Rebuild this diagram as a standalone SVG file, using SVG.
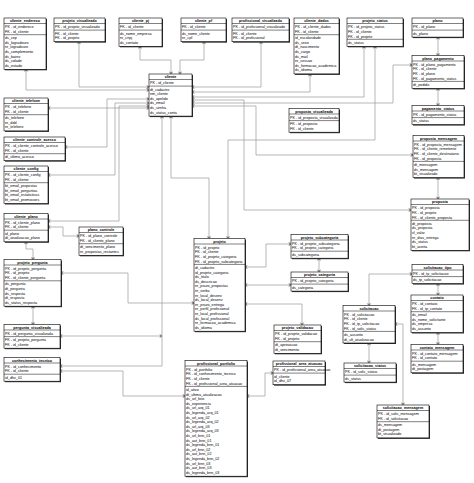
<svg xmlns="http://www.w3.org/2000/svg" width="474" height="483" viewBox="0 0 474 483">
<style>
.bx{fill:#fff;stroke:#000;stroke-width:0.6}
.sh{fill:#333}
.sep{stroke:#000;stroke-width:0.5}
.hd{font-family:"Liberation Sans",Arial,sans-serif;font-size:3.7px;font-weight:bold;text-anchor:middle;fill:#000}
.r{font-family:"Liberation Sans",Arial,sans-serif;font-size:3.7px;fill:#000}
.c{fill:none;stroke:#999;stroke-width:0.7;marker-start:url(#m);marker-end:url(#m)}
</style>
<defs>
<marker id="m" markerUnits="userSpaceOnUse" markerWidth="6" markerHeight="6" viewBox="-5 -3 6 6" refX="0" refY="0" orient="auto-start-reverse">
<path d="M-2.4,-1.4 L0,0 L-2.4,1.4 M-1.2,-1.6 V1.6" fill="none" stroke="#555" stroke-width="0.5"/>
</marker>
</defs>
<rect width="474" height="483" fill="#fff"/>
<g id="connectors">
<path class="c" d="M26,69.3 V90 H149"/>
<path class="c" d="M79,41.7 V87 H149"/>
<path class="c" d="M140,46.3 V60 H171 V74"/>
<path class="c" d="M204,41.7 V60 H180 V74"/>
<path class="c" d="M261,41.7 V87 H192"/>
<path class="c" d="M310,74 V92 H192"/>
<path class="c" d="M364,46.3 V97 H192"/>
<path class="c" d="M412,65 H393 V103 H192"/>
<path class="c" d="M438,37.1 V55.5"/>
<path class="c" d="M438,88.4 V105.5"/>
<path class="c" d="M375,46.3 V140 H228 V238.5"/>
<path class="c" d="M192,100 H244 V210 H411"/>
<path class="c" d="M192,106 H256 V155 H413"/>
<path class="c" d="M171,116.1 V178 H209 V238.5"/>
<path class="c" d="M162,116.1 V366 H60"/>
<path class="c" d="M162,336 H60"/>
<path class="c" d="M48,108 H149"/>
<path class="c" d="M65,147 H107 V99 H149"/>
<path class="c" d="M48,175 H115 V103 H149"/>
<path class="c" d="M48,221 H119 V106 H149"/>
<path class="c" d="M48,227 H63 V236 H79"/>
<path class="c" d="M26,241.8 V249 H33 V259.5"/>
<path class="c" d="M33,306.2 V324.5"/>
<path class="c" d="M61,273 H128 V303 H194"/>
<path class="c" d="M60,371 H123 V396 H185"/>
<path class="c" d="M245,267 H266 V244 H291"/>
<path class="c" d="M319,258.2 V272"/>
<path class="c" d="M245,285 H291"/>
<path class="c" d="M245,304 H302 V325"/>
<path class="c" d="M273,373 H265 V396 H247"/>
<path class="c" d="M438,283.6 V295"/>
<path class="c" d="M412,274 H369 V305.5"/>
<path class="c" d="M438,332.5 V344.5"/>
<path class="c" d="M369,343 V363"/>
<path class="c" d="M395,324 H403 V405"/>
<path class="c" d="M438,177.6 V199"/>
</g>

<g id="cliente_endereco" transform="translate(4,18)">
<rect class="sh" x="1" y="1" width="42" height="51.3"/><rect class="bx" width="42" height="51.3"/>
<text class="hd" x="21" y="4.2">cliente_endereco</text><line class="sep" x1="0" y1="5.5" x2="42" y2="5.5"/>
<text class="r" x="1" y="10.3">PK - id_endereco</text><text class="r" x="1" y="14.9">FK - id_cliente</text>
<line class="sep" x1="0" y1="16.7" x2="42" y2="16.7"/>
<text class="r" x="1" y="21.2">ds_cep</text><text class="r" x="1" y="25.8">ds_logradouro</text><text class="r" x="1" y="30.4">nr_logradouro</text><text class="r" x="1" y="35">ds_complemento</text><text class="r" x="1" y="39.6">ds_bairro</text><text class="r" x="1" y="44.2">ds_cidade</text><text class="r" x="1" y="48.8">ds_estado</text>
</g>

<g id="projeto_visualizado" transform="translate(54,18)">
<rect class="sh" x="1" y="1" width="51" height="23.7"/><rect class="bx" width="51" height="23.7"/>
<text class="hd" x="25.5" y="4.2">projeto_visualizado</text><line class="sep" x1="0" y1="5.5" x2="51" y2="5.5"/>
<text class="r" x="1" y="10.3">PK - id_projeto_visualizado</text>
<line class="sep" x1="0" y1="12.1" x2="51" y2="12.1"/>
<text class="r" x="1" y="16.6">FK - id_cliente</text><text class="r" x="1" y="21.2">FK - id_projeto</text>
</g>

<g id="cliente_pj" transform="translate(119,18)">
<rect class="sh" x="1" y="1" width="43" height="28.3"/><rect class="bx" width="43" height="28.3"/>
<text class="hd" x="21.5" y="4.2">cliente_pj</text><line class="sep" x1="0" y1="5.5" x2="43" y2="5.5"/>
<text class="r" x="1" y="10.3">FK - id_cliente</text>
<line class="sep" x1="0" y1="12.1" x2="43" y2="12.1"/>
<text class="r" x="1" y="16.6">ds_nome_empresa</text><text class="r" x="1" y="21.2">nr_cnpj</text><text class="r" x="1" y="25.8">ds_contato</text>
</g>

<g id="cliente_pf" transform="translate(181,18)">
<rect class="sh" x="1" y="1" width="45" height="23.7"/><rect class="bx" width="45" height="23.7"/>
<text class="hd" x="22.5" y="4.2">cliente_pf</text><line class="sep" x1="0" y1="5.5" x2="45" y2="5.5"/>
<text class="r" x="1" y="10.3">FK - id_cliente</text>
<line class="sep" x1="0" y1="12.1" x2="45" y2="12.1"/>
<text class="r" x="1" y="16.6">ds_nome_cliente</text><text class="r" x="1" y="21.2">nr_cpf</text>
</g>

<g id="profissional_visualizado" transform="translate(232,18)">
<rect class="sh" x="1" y="1" width="57" height="23.7"/><rect class="bx" width="57" height="23.7"/>
<text class="hd" x="28.5" y="4.2">profissional_visualizado</text><line class="sep" x1="0" y1="5.5" x2="57" y2="5.5"/>
<text class="r" x="1" y="10.3">PK - id_profissional_visualizado</text>
<line class="sep" x1="0" y1="12.1" x2="57" y2="12.1"/>
<text class="r" x="1" y="16.6">FK - id_cliente</text><text class="r" x="1" y="21.2">FK - id_profissional</text>
</g>

<g id="cliente_dados" transform="translate(294,18)">
<rect class="sh" x="1" y="1" width="45" height="55.9"/><rect class="bx" width="45" height="55.9"/>
<text class="hd" x="22.5" y="4.2">cliente_dados</text><line class="sep" x1="0" y1="5.5" x2="45" y2="5.5"/>
<text class="r" x="1" y="10.3">PK - id_cliente_dados</text><text class="r" x="1" y="14.9">FK - id_cliente</text>
<line class="sep" x1="0" y1="16.7" x2="45" y2="16.7"/>
<text class="r" x="1" y="21.2">id_escolaridade</text><text class="r" x="1" y="25.8">ds_sexo</text><text class="r" x="1" y="30.4">dt_nascimento</text><text class="r" x="1" y="35">ds_cargo</text><text class="r" x="1" y="39.6">ds_mail</text><text class="r" x="1" y="44.2">nr_sessao</text><text class="r" x="1" y="48.8">ds_formacao_academica</text><text class="r" x="1" y="53.4">ds_idioma</text>
</g>

<g id="projeto_status" transform="translate(347,18)">
<rect class="sh" x="1" y="1" width="56" height="28.3"/><rect class="bx" width="56" height="28.3"/>
<text class="hd" x="28" y="4.2">projeto_status</text><line class="sep" x1="0" y1="5.5" x2="56" y2="5.5"/>
<text class="r" x="1" y="10.3">PK - id_projeto_status</text><text class="r" x="1" y="14.9">FK - id_cliente</text><text class="r" x="1" y="19.5">FK - id_projeto</text>
<line class="sep" x1="0" y1="21.3" x2="56" y2="21.3"/>
<text class="r" x="1" y="25.8">ds_status</text>
</g>

<g id="plano" transform="translate(412,18)">
<rect class="sh" x="1" y="1" width="51" height="19.1"/><rect class="bx" width="51" height="19.1"/>
<text class="hd" x="25.5" y="4.2">plano</text><line class="sep" x1="0" y1="5.5" x2="51" y2="5.5"/>
<text class="r" x="1" y="10.3">PK - id_plano</text>
<line class="sep" x1="0" y1="12.1" x2="51" y2="12.1"/>
<text class="r" x="1" y="16.6">ds_plano</text>
</g>

<g id="plano_pagamento" transform="translate(412,55.5)">
<rect class="sh" x="1" y="1" width="52" height="32.9"/><rect class="bx" width="52" height="32.9"/>
<text class="hd" x="26" y="4.2">plano_pagamento</text><line class="sep" x1="0" y1="5.5" x2="52" y2="5.5"/>
<text class="r" x="1" y="10.3">PK - id_plano_pagamento</text><text class="r" x="1" y="14.9">FK - id_cliente</text><text class="r" x="1" y="19.5">FK - id_plano</text><text class="r" x="1" y="24.1">FK - id_pagamento_status</text>
<line class="sep" x1="0" y1="25.9" x2="52" y2="25.9"/>
<text class="r" x="1" y="30.4">dt_pedido</text>
</g>

<g id="pagamento_status" transform="translate(412,105.5)">
<rect class="sh" x="1" y="1" width="52" height="19.1"/><rect class="bx" width="52" height="19.1"/>
<text class="hd" x="26" y="4.2">pagamento_status</text><line class="sep" x1="0" y1="5.5" x2="52" y2="5.5"/>
<text class="r" x="1" y="10.3">PK - id_pagamento_status</text>
<line class="sep" x1="0" y1="12.1" x2="52" y2="12.1"/>
<text class="r" x="1" y="16.6">ds_status</text>
</g>

<g id="cliente" transform="translate(149,74)">
<rect class="sh" x="1" y="1" width="43" height="42.1"/><rect class="bx" width="43" height="42.1"/>
<text class="hd" x="21.5" y="4.2">cliente</text><line class="sep" x1="0" y1="5.5" x2="43" y2="5.5"/>
<text class="r" x="1" y="10.3">PK - id_cliente</text>
<line class="sep" x1="0" y1="12.1" x2="43" y2="12.1"/>
<text class="r" x="1" y="16.6">dt_cadastro</text><text class="r" x="1" y="21.2">nm_cliente</text><text class="r" x="1" y="25.8">ds_apelido</text><text class="r" x="1" y="30.4">ds_email</text><text class="r" x="1" y="35">ds_senha</text><text class="r" x="1" y="39.6">ds_status_conta</text>
</g>

<g id="proposta_visualizada" transform="translate(289,108.5)">
<rect class="sh" x="1" y="1" width="50" height="23.7"/><rect class="bx" width="50" height="23.7"/>
<text class="hd" x="25" y="4.2">proposta_visualizada</text><line class="sep" x1="0" y1="5.5" x2="50" y2="5.5"/>
<text class="r" x="1" y="10.3">PK - id_proposta_visualizada</text>
<line class="sep" x1="0" y1="12.1" x2="50" y2="12.1"/>
<text class="r" x="1" y="16.6">FK - id_proposta</text><text class="r" x="1" y="21.2">FK - id_cliente</text>
</g>

<g id="cliente_telefone" transform="translate(4,98)">
<rect class="sh" x="1" y="1" width="44" height="32.9"/><rect class="bx" width="44" height="32.9"/>
<text class="hd" x="22" y="4.2">cliente_telefone</text><line class="sep" x1="0" y1="5.5" x2="44" y2="5.5"/>
<text class="r" x="1" y="10.3">PK - id_telefone</text><text class="r" x="1" y="14.9">FK - id_cliente</text>
<line class="sep" x1="0" y1="16.7" x2="44" y2="16.7"/>
<text class="r" x="1" y="21.2">ds_telefone</text><text class="r" x="1" y="25.8">nr_ddd</text><text class="r" x="1" y="30.4">nr_telefone</text>
</g>

<g id="cliente_controle_acesso" transform="translate(4,137)">
<rect class="sh" x="1" y="1" width="61" height="23.7"/><rect class="bx" width="61" height="23.7"/>
<text class="hd" x="30.5" y="4.2">cliente_controle_acesso</text><line class="sep" x1="0" y1="5.5" x2="61" y2="5.5"/>
<text class="r" x="1" y="10.3">PK - id_cliente_controle_acesso</text><text class="r" x="1" y="14.9">FK - id_cliente</text>
<line class="sep" x1="0" y1="16.7" x2="61" y2="16.7"/>
<text class="r" x="1" y="21.2">dt_ultimo_acesso</text>
</g>

<g id="cliente_config" transform="translate(4,166)">
<rect class="sh" x="1" y="1" width="44" height="37.5"/><rect class="bx" width="44" height="37.5"/>
<text class="hd" x="22" y="4.2">cliente_config</text><line class="sep" x1="0" y1="5.5" x2="44" y2="5.5"/>
<text class="r" x="1" y="10.3">PK - id_cliente_config</text><text class="r" x="1" y="14.9">FK - id_cliente</text>
<line class="sep" x1="0" y1="16.7" x2="44" y2="16.7"/>
<text class="r" x="1" y="21.2">bt_email_propostas</text><text class="r" x="1" y="25.8">bt_email_perguntas</text><text class="r" x="1" y="30.4">bt_email_estatisticas</text><text class="r" x="1" y="35">bt_email_promocoes</text>
</g>

<g id="cliente_plano" transform="translate(4,213.5)">
<rect class="sh" x="1" y="1" width="44" height="28.3"/><rect class="bx" width="44" height="28.3"/>
<text class="hd" x="22" y="4.2">cliente_plano</text><line class="sep" x1="0" y1="5.5" x2="44" y2="5.5"/>
<text class="r" x="1" y="10.3">PK - id_cliente_plano</text><text class="r" x="1" y="14.9">FK - id_cliente</text>
<line class="sep" x1="0" y1="16.7" x2="44" y2="16.7"/>
<text class="r" x="1" y="21.2">id_plano</text><text class="r" x="1" y="25.8">dt_atualizacao_plano</text>
</g>

<g id="plano_controle" transform="translate(79,227)">
<rect class="sh" x="1" y="1" width="44" height="28.3"/><rect class="bx" width="44" height="28.3"/>
<text class="hd" x="22" y="4.2">plano_controle</text><line class="sep" x1="0" y1="5.5" x2="44" y2="5.5"/>
<text class="r" x="1" y="10.3">PK - id_plano_controle</text><text class="r" x="1" y="14.9">FK - id_cliente_plano</text>
<line class="sep" x1="0" y1="16.7" x2="44" y2="16.7"/>
<text class="r" x="1" y="21.2">dt_vencimento_plano</text><text class="r" x="1" y="25.8">nr_propostas_restantes</text>
</g>

<g id="projeto_pergunta" transform="translate(4,259.5)">
<rect class="sh" x="1" y="1" width="57" height="46.7"/><rect class="bx" width="57" height="46.7"/>
<text class="hd" x="28.5" y="4.2">projeto_pergunta</text><line class="sep" x1="0" y1="5.5" x2="57" y2="5.5"/>
<text class="r" x="1" y="10.3">PK - id_projeto_pergunta</text><text class="r" x="1" y="14.9">FK - id_projeto</text><text class="r" x="1" y="19.5">FK - id_cliente_pergunta</text>
<line class="sep" x1="0" y1="21.3" x2="57" y2="21.3"/>
<text class="r" x="1" y="25.8">ds_pergunta</text><text class="r" x="1" y="30.4">dt_pergunta</text><text class="r" x="1" y="35">ds_resposta</text><text class="r" x="1" y="39.6">dt_resposta</text><text class="r" x="1" y="44.2">ds_status_resposta</text>
</g>

<g id="pergunta_visualizada" transform="translate(4,324.5)">
<rect class="sh" x="1" y="1" width="56" height="23.7"/><rect class="bx" width="56" height="23.7"/>
<text class="hd" x="28" y="4.2">pergunta_visualizada</text><line class="sep" x1="0" y1="5.5" x2="56" y2="5.5"/>
<text class="r" x="1" y="10.3">PK - id_pergunta_visualizada</text>
<line class="sep" x1="0" y1="12.1" x2="56" y2="12.1"/>
<text class="r" x="1" y="16.6">FK - id_projeto_pergunta</text><text class="r" x="1" y="21.2">FK - id_cliente</text>
</g>

<g id="conhecimento_tecnico" transform="translate(4,357.5)">
<rect class="sh" x="1" y="1" width="56" height="23.7"/><rect class="bx" width="56" height="23.7"/>
<text class="hd" x="28" y="4.2">conhecimento_tecnico</text><line class="sep" x1="0" y1="5.5" x2="56" y2="5.5"/>
<text class="r" x="1" y="10.3">PK - id_conhecimento</text><text class="r" x="1" y="14.9">FK - id_cliente</text>
<line class="sep" x1="0" y1="16.7" x2="56" y2="16.7"/>
<text class="r" x="1" y="21.2">id_dhv_01</text>
</g>

<g id="projeto" transform="translate(194,238.5)">
<rect class="sh" x="1" y="1" width="51" height="92.7"/><rect class="bx" width="51" height="92.7"/>
<text class="hd" x="25.5" y="4.2">projeto</text><line class="sep" x1="0" y1="5.5" x2="51" y2="5.5"/>
<text class="r" x="1" y="10.3">PK - id_projeto</text><text class="r" x="1" y="14.9">FK - id_cliente</text><text class="r" x="1" y="19.5">FK - id_projeto_categoria</text><text class="r" x="1" y="24.1">FK - id_projeto_subcategoria</text>
<line class="sep" x1="0" y1="25.9" x2="51" y2="25.9"/>
<text class="r" x="1" y="30.4">dt_cadastro</text><text class="r" x="1" y="35">id_projeto_categoria</text><text class="r" x="1" y="39.6">ds_titulo</text><text class="r" x="1" y="44.2">ds_descricao</text><text class="r" x="1" y="48.8">nr_prazo_propostas</text><text class="r" x="1" y="53.4">nr_verba</text><text class="r" x="1" y="58">nr_local_desenv</text><text class="r" x="1" y="62.6">ds_local_desenv</text><text class="r" x="1" y="67.2">nr_prazo_entrega</text><text class="r" x="1" y="71.8">nr_perfil_profissional</text><text class="r" x="1" y="76.4">nr_local_profissional</text><text class="r" x="1" y="81">ds_local_profissional</text><text class="r" x="1" y="85.6">nr_formacao_academica</text><text class="r" x="1" y="90.2">ds_idioma</text>
</g>

<g id="projeto_subcategoria" transform="translate(291,234.5)">
<rect class="sh" x="1" y="1" width="57" height="23.7"/><rect class="bx" width="57" height="23.7"/>
<text class="hd" x="28.5" y="4.2">projeto_subcategoria</text><line class="sep" x1="0" y1="5.5" x2="57" y2="5.5"/>
<text class="r" x="1" y="10.3">PK - id_projeto_subcategoria</text><text class="r" x="1" y="14.9">FK - id_projeto_categoria</text>
<line class="sep" x1="0" y1="16.7" x2="57" y2="16.7"/>
<text class="r" x="1" y="21.2">ds_subcategoria</text>
</g>

<g id="projeto_categoria" transform="translate(291,272)">
<rect class="sh" x="1" y="1" width="57" height="19.1"/><rect class="bx" width="57" height="19.1"/>
<text class="hd" x="28.5" y="4.2">projeto_categoria</text><line class="sep" x1="0" y1="5.5" x2="57" y2="5.5"/>
<text class="r" x="1" y="10.3">PK - id_projeto_categoria</text>
<line class="sep" x1="0" y1="12.1" x2="57" y2="12.1"/>
<text class="r" x="1" y="16.6">ds_categoria</text>
</g>

<g id="projeto_validacao" transform="translate(274,325)">
<rect class="sh" x="1" y="1" width="47" height="28.3"/><rect class="bx" width="47" height="28.3"/>
<text class="hd" x="23.5" y="4.2">projeto_validacao</text><line class="sep" x1="0" y1="5.5" x2="47" y2="5.5"/>
<text class="r" x="1" y="10.3">PK - id_projeto_validacao</text><text class="r" x="1" y="14.9">FK - id_projeto</text>
<line class="sep" x1="0" y1="16.7" x2="47" y2="16.7"/>
<text class="r" x="1" y="21.2">dt_aprovacao</text><text class="r" x="1" y="25.8">dt_vencimento</text>
</g>

<g id="profissional_portfolio" transform="translate(185,360.5)">
<rect class="sh" x="1" y="1" width="62" height="115.7"/><rect class="bx" width="62" height="115.7"/>
<text class="hd" x="31" y="4.2">profissional_portfolio</text><line class="sep" x1="0" y1="5.5" x2="62" y2="5.5"/>
<text class="r" x="1" y="10.3">PK - id_portfolio</text><text class="r" x="1" y="14.9">FK - id_conhecimento_tecnico</text><text class="r" x="1" y="19.5">FK - id_cliente</text><text class="r" x="1" y="24.1">FK - id_profissional_area_atuacao</text>
<line class="sep" x1="0" y1="25.9" x2="62" y2="25.9"/>
<text class="r" x="1" y="30.4">id_ativo</text><text class="r" x="1" y="35">dt_ultima_atualizacao</text><text class="r" x="1" y="39.6">ds_url_foto</text><text class="r" x="1" y="44.2">ds_experiencia</text><text class="r" x="1" y="48.8">ds_url_arq_01</text><text class="r" x="1" y="53.4">ds_legenda_arq_01</text><text class="r" x="1" y="58">ds_url_arq_02</text><text class="r" x="1" y="62.6">ds_legenda_arq_02</text><text class="r" x="1" y="67.2">ds_url_arq_03</text><text class="r" x="1" y="71.8">ds_legenda_arq_03</text><text class="r" x="1" y="76.4">ds_url_bnn_01</text><text class="r" x="1" y="81">ds_aut_bnn_01</text><text class="r" x="1" y="85.6">ds_legenda_bnn_01</text><text class="r" x="1" y="90.2">ds_url_bnn_02</text><text class="r" x="1" y="94.8">ds_aut_bnn_02</text><text class="r" x="1" y="99.4">ds_legenda_bnn_02</text><text class="r" x="1" y="104">ds_url_bnn_03</text><text class="r" x="1" y="108.6">ds_aut_bnn_03</text><text class="r" x="1" y="113.2">ds_legenda_bnn_03</text>
</g>

<g id="profissional_area_atuacao" transform="translate(273,361)">
<rect class="sh" x="1" y="1" width="52" height="23.7"/><rect class="bx" width="52" height="23.7"/>
<text class="hd" x="26" y="4.2">profissional_area_atuacao</text><line class="sep" x1="0" y1="5.5" x2="52" y2="5.5"/>
<text class="r" x="1" y="10.3">PK - id_profissional_area_atuacao</text>
<line class="sep" x1="0" y1="12.1" x2="52" y2="12.1"/>
<text class="r" x="1" y="16.6">id_cliente</text><text class="r" x="1" y="21.2">id_dhv_07</text>
</g>

<g id="solicitacao_tipo" transform="translate(412,264.5)">
<rect class="sh" x="1" y="1" width="51" height="19.1"/><rect class="bx" width="51" height="19.1"/>
<text class="hd" x="25.5" y="4.2">solicitacao_tipo</text><line class="sep" x1="0" y1="5.5" x2="51" y2="5.5"/>
<text class="r" x="1" y="10.3">PK - id_tp_solicitacao</text>
<line class="sep" x1="0" y1="12.1" x2="51" y2="12.1"/>
<text class="r" x="1" y="16.6">ds_tp_solicitacao</text>
</g>

<g id="contato" transform="translate(411,295)">
<rect class="sh" x="1" y="1" width="52" height="37.5"/><rect class="bx" width="52" height="37.5"/>
<text class="hd" x="26" y="4.2">contato</text><line class="sep" x1="0" y1="5.5" x2="52" y2="5.5"/>
<text class="r" x="1" y="10.3">PK - id_contato</text><text class="r" x="1" y="14.9">FK - id_tp_contato</text>
<line class="sep" x1="0" y1="16.7" x2="52" y2="16.7"/>
<text class="r" x="1" y="21.2">ds_email</text><text class="r" x="1" y="25.8">ds_nome_solicitante</text><text class="r" x="1" y="30.4">ds_empresa</text><text class="r" x="1" y="35">ds_assunto</text>
</g>

<g id="contato_mensagem" transform="translate(411,344.5)">
<rect class="sh" x="1" y="1" width="52" height="28.3"/><rect class="bx" width="52" height="28.3"/>
<text class="hd" x="26" y="4.2">contato_mensagem</text><line class="sep" x1="0" y1="5.5" x2="52" y2="5.5"/>
<text class="r" x="1" y="10.3">PK - id_contato_mensagem</text><text class="r" x="1" y="14.9">FK - id_contato</text>
<line class="sep" x1="0" y1="16.7" x2="52" y2="16.7"/>
<text class="r" x="1" y="21.2">ds_mensagem</text><text class="r" x="1" y="25.8">dt_postagem</text>
</g>

<g id="solicitacao" transform="translate(343,305.5)">
<rect class="sh" x="1" y="1" width="52" height="37.5"/><rect class="bx" width="52" height="37.5"/>
<text class="hd" x="26" y="4.2">solicitacao</text><line class="sep" x1="0" y1="5.5" x2="52" y2="5.5"/>
<text class="r" x="1" y="10.3">PK - id_solicitacao</text><text class="r" x="1" y="14.9">FK - id_cliente</text><text class="r" x="1" y="19.5">FK - id_tp_solicitacao</text><text class="r" x="1" y="24.1">FK - id_solic_status</text>
<line class="sep" x1="0" y1="25.9" x2="52" y2="25.9"/>
<text class="r" x="1" y="30.4">ds_assunto</text><text class="r" x="1" y="35">dt_ult_atualizacao</text>
</g>

<g id="solicitacao_status" transform="translate(344,363)">
<rect class="sh" x="1" y="1" width="52" height="19.1"/><rect class="bx" width="52" height="19.1"/>
<text class="hd" x="26" y="4.2">solicitacao_status</text><line class="sep" x1="0" y1="5.5" x2="52" y2="5.5"/>
<text class="r" x="1" y="10.3">PK - id_solic_status</text>
<line class="sep" x1="0" y1="12.1" x2="52" y2="12.1"/>
<text class="r" x="1" y="16.6">ds_status</text>
</g>

<g id="solicitacao_mensagem" transform="translate(377,405)">
<rect class="sh" x="1" y="1" width="52" height="32.9"/><rect class="bx" width="52" height="32.9"/>
<text class="hd" x="26" y="4.2">solicitacao_mensagem</text><line class="sep" x1="0" y1="5.5" x2="52" y2="5.5"/>
<text class="r" x="1" y="10.3">PK - id_solic_mensagem</text><text class="r" x="1" y="14.9">FK - id_solicitacao</text>
<line class="sep" x1="0" y1="16.7" x2="52" y2="16.7"/>
<text class="r" x="1" y="21.2">ds_mensagem</text><text class="r" x="1" y="25.8">dt_postagem</text><text class="r" x="1" y="30.4">bt_visualizado</text>
</g>

<g id="proposta_mensagem" transform="translate(413,135.5)">
<rect class="sh" x="1" y="1" width="51" height="42.1"/><rect class="bx" width="51" height="42.1"/>
<text class="hd" x="25.5" y="4.2">proposta_mensagem</text><line class="sep" x1="0" y1="5.5" x2="51" y2="5.5"/>
<text class="r" x="1" y="10.3">PK - id_proposta_mensagem</text><text class="r" x="1" y="14.9">FK - id_cliente_remetente</text><text class="r" x="1" y="19.5">FK - id_cliente_destinatario</text><text class="r" x="1" y="24.1">FK - id_proposta</text>
<line class="sep" x1="0" y1="25.9" x2="51" y2="25.9"/>
<text class="r" x="1" y="30.4">dt_mensagem</text><text class="r" x="1" y="35">ds_mensagem</text><text class="r" x="1" y="39.6">bt_visualizado</text>
</g>

<g id="proposta" transform="translate(411,199)">
<rect class="sh" x="1" y="1" width="58" height="51.3"/><rect class="bx" width="58" height="51.3"/>
<text class="hd" x="29" y="4.2">proposta</text><line class="sep" x1="0" y1="5.5" x2="58" y2="5.5"/>
<text class="r" x="1" y="10.3">PK - id_proposta</text><text class="r" x="1" y="14.9">FK - id_projeto</text><text class="r" x="1" y="19.5">FK - id_cliente_proposta</text>
<line class="sep" x1="0" y1="21.3" x2="58" y2="21.3"/>
<text class="r" x="1" y="25.8">dt_proposta</text><text class="r" x="1" y="30.4">ds_proposta</text><text class="r" x="1" y="35">vl_valor</text><text class="r" x="1" y="39.6">nr_dias_entrega</text><text class="r" x="1" y="44.2">ds_status</text><text class="r" x="1" y="48.8">bt_aceita</text>
</g>
</svg>
